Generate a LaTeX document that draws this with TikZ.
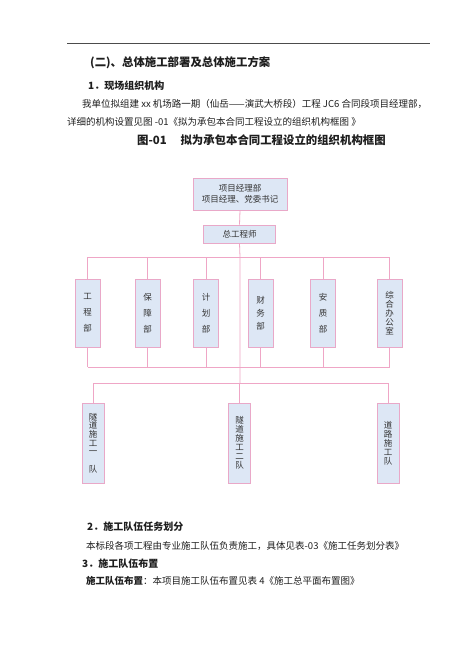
\documentclass[tikz,border=0pt]{standalone}
\usepackage{fontspec}
\setmainfont{Noto Sans CJK SC}
\definecolor{boxblue}{HTML}{DDE7F5}
\definecolor{boxpink}{HTML}{E9A8C8}
\definecolor{linkpink}{HTML}{EFA6C6}
\definecolor{boxtext}{HTML}{333333}
\definecolor{bodytext}{HTML}{1E1E1E}
\begin{document}
\begin{tikzpicture}[x=1pt,y=-1pt,
  orgbox/.style={draw=boxpink,fill=boxblue,line width=0.8pt,inner sep=0pt,text=boxtext,align=center,font=\fontsize{8.5}{11}\selectfont},
  deptbox/.style={orgbox,minimum width=25pt,minimum height=68pt},
  teambox/.style={orgbox,minimum width=22pt,minimum height=80pt},
  link/.style={draw=linkpink,line width=0.8pt},
  txt/.style={anchor=west,inner sep=0pt,text=bodytext},
  body/.style={txt,font=\fontsize{9.5}{11}\selectfont},
  head/.style={txt,font=\fontsize{10}{12}\selectfont\bfseries}]
\useasboundingbox (0,0) rectangle (474,670);
\fill[white] (0,0) rectangle (474,670);
\draw[line width=0.8pt,black!70] (67,43) -- (430,43);

\node[txt,font=\fontsize{11.4}{13}\selectfont\bfseries] (h1) at (90,63) {(二)、总体施工部署及总体施工方案};
\node[head] (h2) at (88,86) {1．现场组织机构};
\node[body] (p1) at (82,104) {我单位拟组建 xx 机场路一期（仙岳——演武大桥段）工程 JC6 合同段项目经理部，};
\node[body] (p2) at (67,122) {详细的机构设置见图 -01《拟为承包本合同工程设立的组织机构框图 》};
\node[txt,font=\fontsize{11.4}{13}\selectfont\bfseries] (title) at (137,140) {图-01\hspace{1.2em}拟为承包本合同工程设立的组织机构框图};

\node[orgbox,minimum width=94pt,minimum height=32pt] (pm) at (240,194) {项目经理部\\项目经理、党委书记};
\node[orgbox,minimum width=72pt,minimum height=18pt] (ce) at (239.5,234) {总工程师};

\node[deptbox] (d1) at (87.5,313) {工\\[5pt]程\\[5pt]部};
\node[deptbox] (d2) at (147.5,313) {保\\[5pt]障\\[5pt]部};
\node[deptbox] (d3) at (206,313) {计\\[5pt]划\\[5pt]部};
\node[deptbox] (d4) at (260.5,313) {财\\[2pt]务\\[2pt]部};
\node[deptbox] (d5) at (323,313) {安\\[5pt]质\\[5pt]部};
\node[deptbox,font=\fontsize{8.5}{9}\selectfont] (d6) at (389.5,313) {综\\合\\办\\公\\室};

\node[teambox,font=\fontsize{8.5}{8.6}\selectfont] (t1) at (93,443) {隧\\道\\施\\工\\一\\[9pt]队};
\node[teambox,font=\fontsize{8.5}{9}\selectfont] (t2) at (239.5,443) {隧\\道\\施\\工\\二\\队};
\node[teambox,font=\fontsize{8.5}{9}\selectfont] (t3) at (388,443) {道\\路\\施\\工\\队};

\coordinate (jt) at (240,257);
\coordinate (jb) at (240,367);
\coordinate (jl) at (240,383);

\draw[link] (pm.south) -- (ce.north);
\draw[link] (ce.south) -- (jt) -- (jb) -- (jl);
\draw[link] (d1.north |- jt) -- (d6.north |- jt);
\draw[link] (d1.south |- jb) -- (d6.south |- jb);
\foreach \d in {d1,d2,d3,d4,d5,d6}{
  \draw[link] (\d.north) -- (\d.north |- jt);
  \draw[link] (\d.south) -- (\d.south |- jb);
}
\draw[link] (t1.north |- jl) -- (t3.north |- jl);
\foreach \t in {t1,t2,t3}{
  \draw[link] (\t.north) -- (\t.north |- jl);
}

\node[head] (h3) at (87,527) {2．施工队伍任务划分};
\node[body] (p3) at (86,546) {本标段各项工程由专业施工队伍负责施工，具体见表-03《施工任务划分表》};
\node[head] (h4) at (82,564) {3．施工队伍布置};
\node[body] (p4) at (86,581) {\textbf{施工队伍布置}：本项目施工队伍布置见表 4《施工总平面布置图》};
\end{tikzpicture}
\end{document}
